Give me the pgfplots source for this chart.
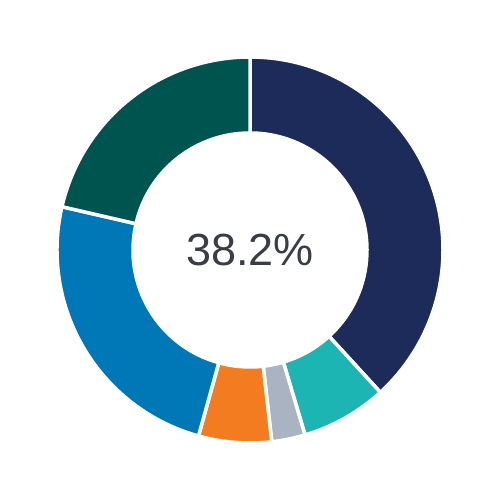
\documentclass[border=0pt]{standalone}
\usepackage{pgfplots}
\usepackage{pgfplotstable}
\pgfplotsset{compat=1.18}
\usepackage{fontspec}
\setmainfont{Liberation Sans}

\definecolor{navy}{HTML}{1C2B5A}
\definecolor{tealc}{HTML}{1DB5B3}
\definecolor{grayc}{HTML}{A9B3C1}
\definecolor{orangec}{HTML}{F47C20}
\definecolor{bluec}{HTML}{0077B6}
\definecolor{greenc}{HTML}{005450}
\definecolor{textc}{HTML}{3A3D45}

% shares in percent, clockwise from 12 o'clock
\pgfplotstableread{
value colour
38.2  navy
7.2   tealc
2.8   grayc
6.1   orangec
24.3  bluec
21.4  greenc
}\donut

\def\Rout{1.93}
\def\Rin{1.17}

\begin{document}
\begin{tikzpicture}
\begin{axis}[
  x=1cm, y=1cm,
  xmin=-2.5, xmax=2.5, ymin=-2.5, ymax=2.5,
  hide axis, clip=false]
\path (axis cs:-2.5,-2.5) rectangle (axis cs:2.5,2.5);
\pgfplotstablegetrowsof{\donut}
\pgfmathtruncatemacro\nrows{\pgfplotsretval-1}
\def\cum{0}
\pgfplotsforeachungrouped \i in {0,...,\nrows}{
  \pgfplotstablegetelem{\i}{value}\of\donut \let\v\pgfplotsretval
  \pgfplotstablegetelem{\i}{colour}\of\donut \let\c\pgfplotsretval
  \pgfmathsetmacro\a{90-3.6*\cum}
  \pgfmathsetmacro\b{90-3.6*(\cum+\v)}
  \pgfmathsetmacro\xa{\Rout*cos(\a)}
  \pgfmathsetmacro\ya{\Rout*sin(\a)}
  \pgfmathsetmacro\xb{\Rin*cos(\b)}
  \pgfmathsetmacro\yb{\Rin*sin(\b)}
  \edef\seg{\noexpand\path[fill=\c, draw=white, line width=1pt]
    (axis cs:\xa,\ya) arc[start angle=\a, end angle=\b, radius=\Rout cm]
    -- (axis cs:\xb,\yb) arc[start angle=\b, end angle=\a, radius=\Rin cm] -- cycle;}
  \seg
  \pgfmathsetmacro\cum{\cum+\v}
}
\node[text=textc, font=\fontsize{12.8}{15}\selectfont] at (axis cs:0,0) {38.2\%};
\end{axis}
\end{tikzpicture}
\end{document}
